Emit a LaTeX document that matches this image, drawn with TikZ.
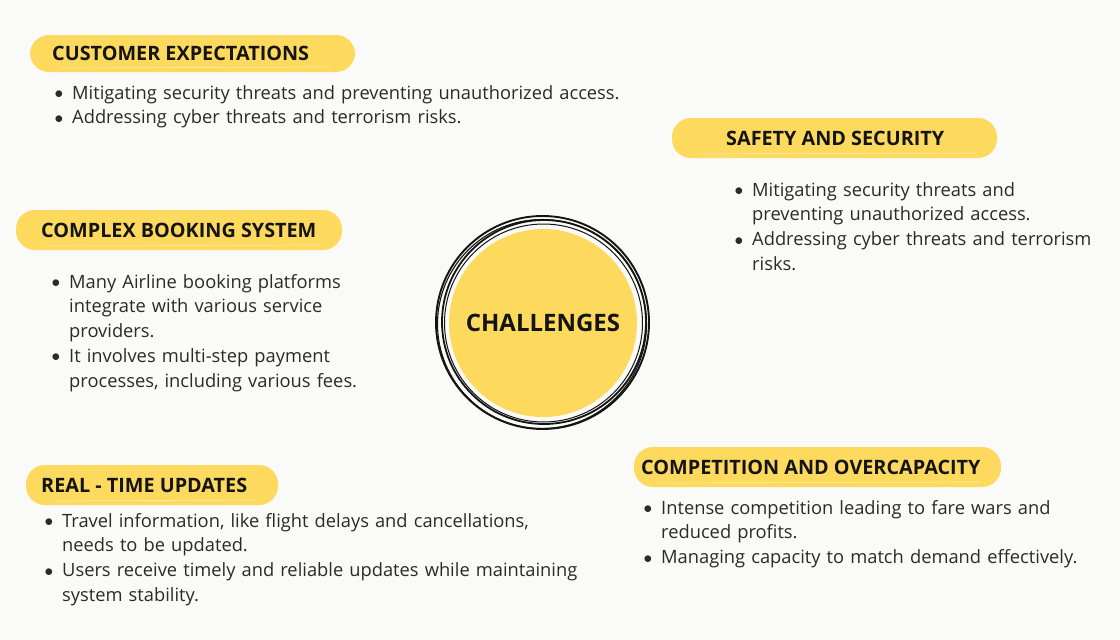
\documentclass[tikz,border=0pt]{standalone}
\usepackage{fontspec}
\setmainfont{Open Sans}
\usepackage{enumitem}
\usetikzlibrary{calc}
\newlist{challist}{itemize}{1}
\setlist[challist]{label=\raisebox{0.5pt}{$\bullet$}, leftmargin=20pt, labelsep=9pt,
  topsep=0pt, partopsep=0pt, itemsep=0pt, parsep=0pt}
\definecolor{paper}{HTML}{FAFAF8}
\definecolor{marker}{HTML}{FDDA5E}
\definecolor{ink}{HTML}{141414}
\definecolor{bodyink}{HTML}{2A2A2A}

\begin{document}
\begin{tikzpicture}[
        x=1pt, y=-1pt,
        % yellow marker strokes behind the headings
        brush/.style={fill=marker, rounded corners=19pt},
        streak/.style={draw=white, opacity=.45, line width=.7pt, line cap=round},
        heading/.style={anchor=base west, inner sep=0pt, text=ink,
            font=\fontsize{19.8}{22}\selectfont\bfseries},
        points/.style={anchor=base west, inner sep=0pt, text=bodyink,
            text width=#1, font=\fontsize{18.3}{24.8}\selectfont},
        points/.default=560pt,
        ring/.style={draw=ink, line width=1.4pt},
    ]
    \useasboundingbox (0,0) rectangle (1120,640);
    \fill[paper] (0,0) rectangle (1120,640);

    % marker strokes
    \fill[brush] (30,35) rectangle (355,72);
    \fill[brush] (672,118) rectangle (997,158);
    \fill[brush] (16,210) rectangle (342,250);
    \fill[brush] (26,465) rectangle (278,505);
    \fill[brush] (634,447) rectangle (1001,487);
    % faint brush texture
    \draw[streak] (60,68) -- (330,67);
    \draw[streak] (700,154) -- (975,153);
    \draw[streak] (45,246) -- (320,245);
    \draw[streak] (55,501) -- (255,500);
    \draw[streak] (660,483) -- (980,482);

    % centre badge
    \coordinate (mid) at (543,323);
    \fill[marker] (mid) circle (94);
    \draw[ring, line width=1pt] ($(mid)+(0.5,0)$) circle (99);
    \draw[ring, line width=1.8pt] ($(mid)+(1,-1)$) circle (102);
    \draw[ring, line width=1.1pt] ($(mid)+(-1,1)$) circle (104.5);
    \draw[ring, line width=1.9pt] ($(mid)+(-0.5,-0.5)$) circle (106.5);
    \node[inner sep=0pt, text=ink, font=\fontsize{24}{26}\selectfont\bfseries]
        (core) at (mid) {CHALLENGES};

    % customer expectations
    \node[heading] (cust) at (52,60) {CUSTOMER EXPECTATIONS};
    \node[points=640pt] (custlist) at (52,74.2) {%
        \begin{challist}
            \item Mitigating security threats and preventing unauthorized access.
            \item Addressing cyber threats and terrorism risks.
        \end{challist}};

    % safety and security
    \node[heading] (safe) at (726,145) {SAFETY AND SECURITY};
    \node[points=380pt] (safelist) at (732,171.2) {%
        \begin{challist}
            \item Mitigating security threats and\newline preventing unauthorized access.
            \item Addressing cyber threats and terrorism\newline risks.
        \end{challist}};

    % complex booking system
    \node[heading] (book) at (41,237) {COMPLEX BOOKING SYSTEM};
    \node[points=380pt] (booklist) at (49,263.2) {%
        \begin{challist}
            \item Many Airline booking platforms\newline integrate with various service\newline providers.
            \item It involves multi-step payment\newline processes, including various fees.
        \end{challist}};

    % real-time updates
    \node[heading] (live) at (41,492) {REAL - TIME UPDATES};
    \node[points] (livelist) at (42,502.2) {%
        \begin{challist}
            \item Travel information, like flight delays and cancellations,\newline needs to be updated.
            \item Users receive timely and reliable updates while maintaining\newline system stability.
        \end{challist}};

    % competition and overcapacity
    \node[heading] (comp) at (641,474) {COMPETITION AND OVERCAPACITY};
    \node[points=470pt] (complist) at (641,489.2) {%
        \begin{challist}
            \item Intense competition leading to fare wars and\newline reduced profits.
            \item Managing capacity to match demand effectively.
        \end{challist}};
\end{tikzpicture}
\end{document}
